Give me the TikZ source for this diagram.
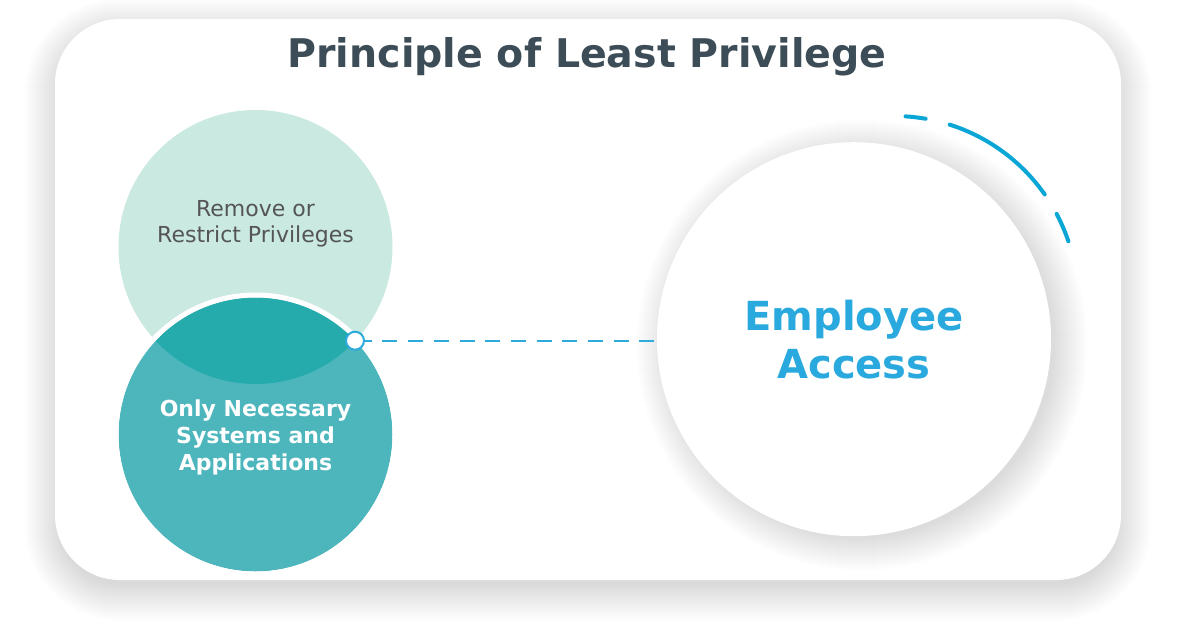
\documentclass[tikz,border=0pt]{standalone}
\usepackage{fontspec}
\setmainfont{DejaVu Sans}
\definecolor{mint}{HTML}{C9E9E1}
\definecolor{teal}{HTML}{4DB6BC}
\definecolor{overlapc}{HTML}{26ABAD}
\definecolor{titlec}{HTML}{3D4D58}
\definecolor{bluetext}{HTML}{29A9DE}
\definecolor{arcblue}{HTML}{0AA6D6}
\definecolor{dashblue}{HTML}{2EAADC}
\definecolor{graytext}{HTML}{555555}
\begin{document}
\begin{tikzpicture}[x=1pt,y=-1pt,
  disc/.style={circle, inner sep=0pt, draw=none},
  txt/.style={inner sep=0pt, anchor=base},
  smalltxt/.style={txt, font=\fontsize{22}{26}\selectfont},
  arcdash/.style={arcblue, line width=4pt, line cap=round},
  shadowlayer/.style={fill=black, opacity=#1}]
\useasboundingbox (0,0) rectangle (1188,625);
\fill[white] (0,0) rectangle (1188,625);
% card shadow
\foreach \i in {0,...,36} {
  \pgfmathsetmacro\rr{60+\i}
  \fill[shadowlayer=0.005, rounded corners=\rr pt] (60-\i,34-\i) rectangle (1116+\i,585+\i);
}
% card
\node[fill=white, rounded corners=65pt, minimum width=1066pt, minimum height=561pt, inner sep=0pt]
  (card) at (588,299.5) {};
% title
\node[txt, font=\bfseries\fontsize{39.5}{47}\selectfont, text=titlec] (title) at (587,67) {Principle of Least Privilege};
% left circles
\node[disc, fill=mint, minimum size=274pt] (rem) at (255.5,247) {};
\node[disc, fill=teal, minimum size=274pt] (nec) at (255.5,434.5) {};
\begin{scope}
  \clip (nec.center) circle[radius=137];
  \fill[overlapc] (rem.center) circle[radius=137];
\end{scope}
\draw[white, line width=5pt] (nec.center) circle[radius=139.5];
\node[smalltxt, text=graytext] (rem1) at (255.5,216) {Remove or};
\node[smalltxt, text=graytext] (rem2) at (255.5,242.7) {Restrict Privileges};
\node[smalltxt, text=white, font=\bfseries\fontsize{22}{26}\selectfont] (nec1) at (255.5,416.7) {Only Necessary};
\node[smalltxt, text=white, font=\bfseries\fontsize{22}{26}\selectfont] (nec2) at (255.5,443.3) {Systems and};
\node[smalltxt, text=white, font=\bfseries\fontsize{22}{26}\selectfont] (nec3) at (255.5,470.7) {Applications};
% employee circle shadow
\foreach \i in {0,...,34} {
  \fill[shadowlayer=0.004] (862,345) circle[radius=192+\i];
}
% employee circle
\node[disc, fill=white, minimum size=394pt] (emp) at (854,339.2) {};
\node[txt, text=bluetext, font=\bfseries\fontsize{40}{48}\selectfont] (emp1) at (854,330) {Employee};
\node[txt, text=bluetext, font=\bfseries\fontsize{40}{48}\selectfont] (emp2) at (854,378) {Access};
% dot and connector
\node[disc, fill=white, draw=dashblue, line width=2pt, minimum size=18pt] (dot) at (355,340.7) {};
\draw[dashblue, line width=2pt, dash pattern=on 15pt off 10.7pt, dash phase=8.3pt]
  (dot.east) -- (dot.east -| emp.west);
% dashed arc
\draw[arcdash] ([shift={(-86.4:184)}]894,300) arc[start angle=-86.4, end angle=-80.1, radius=184];
\draw[arcdash] ([shift={(-72.4:184)}]894,300) arc[start angle=-72.4, end angle=-35.0, radius=184];
\draw[arcdash] ([shift={(-27.9:184)}]894,300) arc[start angle=-27.9, end angle=-18.6, radius=184];
\end{tikzpicture}
\end{document}
